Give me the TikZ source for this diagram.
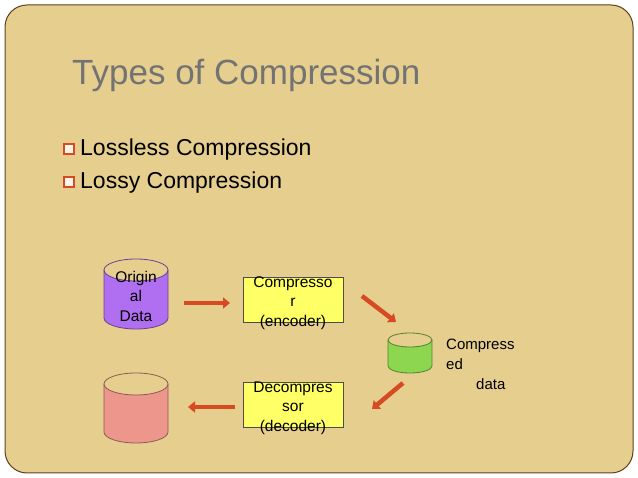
\documentclass[tikz,border=0pt]{standalone}
\usepackage{fontspec}
\setmainfont{Liberation Sans}
\usetikzlibrary{arrows.meta}
\definecolor{paper}{RGB}{229,206,142}
\definecolor{arr}{RGB}{214,74,36}
\definecolor{purp}{RGB}{176,110,240}
\definecolor{grn}{RGB}{140,214,80}
\definecolor{pink}{RGB}{236,150,140}
\definecolor{boxy}{RGB}{255,255,102}
\tikzset{
  procbox/.style={draw=black!70, line width=0.8pt, fill=boxy, minimum width=100pt, minimum height=45pt, inner sep=0pt},
  flow/.style={draw=arr, line width=4.5pt, -{Triangle[length=7pt,width=11pt]}},
  txt/.style={font=\fontsize{15.5}{19.5}\selectfont, align=center},
  cylnode/.style={minimum width=#1, inner sep=0pt}
}
\newcommand{\mycyl}[6]{% cx, top, bottom, rx, ry, color
  \fill[#6] (#1-#4,#2) -- (#1-#4,#3) arc[start angle=180,end angle=360,x radius=#4,y radius=-#5] -- (#1+#4,#2) arc[start angle=0,end angle=180,x radius=#4,y radius=#5] -- cycle;
  \draw[#6!60!black, line width=0.8pt] (#1-#4,#2) -- (#1-#4,#3) arc[start angle=180,end angle=360,x radius=#4,y radius=-#5] -- (#1+#4,#2);
  \draw[#6!60!black, line width=0.8pt] (#1,#2) ellipse[x radius=#4,y radius=#5];
}
\begin{document}
\begin{tikzpicture}[x=1pt,y=-1pt]
\useasboundingbox (0,0) rectangle (638,478);
\draw[fill=paper, draw=black!50!brown, line width=1pt, rounded corners=22pt] (5,5) rectangle (633,473);
\node[anchor=base west, text=black!55, font=\fontsize{35}{40}\selectfont, inner sep=0pt] (title) at (72,85) {Types of Compression};
\node[anchor=base west, font=\fontsize{23}{26}\selectfont, inner sep=0pt] (b1) at (80,156) {Lossless Compression};
\node[anchor=base west, font=\fontsize{23}{26}\selectfont, inner sep=0pt] (b2) at (80,189) {Lossy Compression};
\foreach \y/\n in {149/q1,182/q2}{
  \node[draw=arr, fill=white!80!paper, line width=1.8pt, minimum size=10pt, inner sep=0pt] (\n) at (69,\y) {};
}
\mycyl{136}{270}{318}{32}{11}{purp}
\mycyl{136}{384}{432}{32}{11}{pink}
\mycyl{410}{340}{366}{22}{7}{grn}
\node[cylnode=64pt, minimum height=70pt] (orig) at (136,294) {};
\node[cylnode=64pt, minimum height=70pt] (rec) at (136,408) {};
\node[cylnode=45pt, minimum height=40pt] (cd) at (410,353) {};
\node[txt] (origt) at (136,296) {Origin\\al\\Data};
\node[procbox] (comp) at (293,300) {};
\node[txt] (compt) at (293,303) {Compresso\\r\\(encoder)};
\node[procbox] (dec) at (293,405) {};
\node[txt] (dect) at (293,408) {Decompres\\sor\\(decoder)};
\node[anchor=north west, align=left, font=\fontsize{15}{20}\selectfont, inner sep=0pt] (cdt) at (446,339) {Compress\\ed\\\hspace*{30pt}data};
\draw[flow] (184,303) coordinate (a1) -- (230,303) coordinate (a1e);
\draw[flow] (362,296) coordinate (a2) -- (396,322) coordinate (a2e);
\draw[flow] (403,383) coordinate (a3) -- (372,409) coordinate (a3e);
\draw[flow] (235,407) coordinate (a4) -- (188,407) coordinate (a4e);
\end{tikzpicture}
\end{document}
